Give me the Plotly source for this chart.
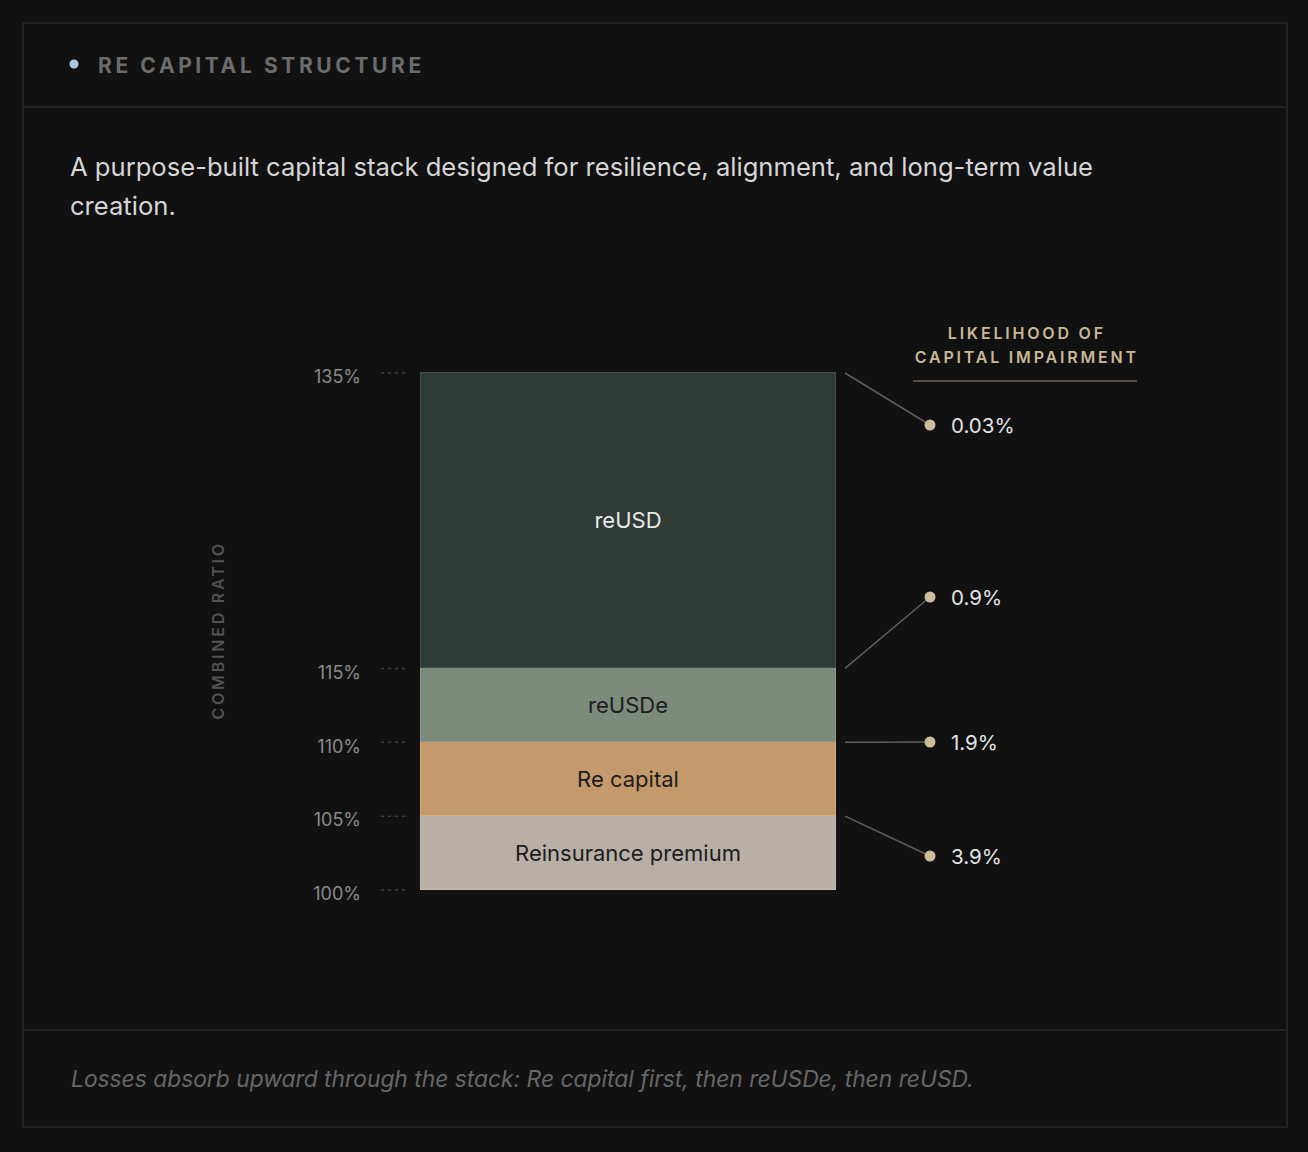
import plotly.graph_objects as go

W, H = 1308, 1152

# --- data ---
segments = ["Reinsurance premium", "Re capital", "reUSDe", "reUSD"]
bounds = [100, 105, 110, 115, 135]
seg_colors = ["#b8afa6", "#c49a6c", "#7d8b7d", "#2e3b36"]
seg_edges = ["#c9c1b9", "#d1aa80", "#8d9a8c", "#3f4f48"]
seg_text_colors = ["#1c1c1c", "#1c1c1c", "#1c1c1c", "#e8e8e8"]
tick_vals = [100, 105, 110, 115, 135]
tick_text = ["100%", "105%", "110%", "115%", "135%"]
impair_at = [135, 115, 110, 105]
impair_text = ["0.03%", "0.9%", "1.9%", "3.9%"]

# --- layout helpers (pixel placement) ---
PX_100, PX_135 = 890, 373
ppu = (PX_100 - PX_135) / (135 - 100)
y_lo = 100 - (H - PX_100) / ppu
y_hi = 135 + PX_135 / ppu


def py2y(py):
    return 135 - (py - PX_135) / ppu


def px(x):
    return x / W


def py(y):
    return 1 - y / H


FONT = "Inter, Roboto, sans-serif"
bar_x, bar_w = 628.5, 415
lead_x0, dot_x, lab_x = 845, 930, 949
dot_py = [425, 597, 742, 856]

fig = go.Figure()


def note(x, y, text, **kw):
    fig.add_annotation(x=px(x), y=py(y), xref="paper", yref="paper", text=text,
                       showarrow=False, **kw)


# stacked capital layers
for i, name in enumerate(segments):
    fig.add_trace(go.Bar(
        x=[bar_x], y=[bounds[i + 1] - bounds[i]], base=[bounds[i]],
        width=[bar_w],
        marker=dict(color=seg_colors[i], line=dict(color=seg_edges[i], width=1)),
        text=[name], textposition="inside", insidetextanchor="middle",
        textangle=0, constraintext="none",
        textfont=dict(family=FONT, size=22, color=seg_text_colors[i]),
        hoverinfo="skip", showlegend=False,
    ))

# leader lines + dots for likelihood of impairment
for lvl, dpy, txt in zip(impair_at, dot_py, impair_text):
    yd = py2y(dpy)
    fig.add_trace(go.Scatter(
        x=[lead_x0, dot_x], y=[lvl, yd], mode="lines",
        line=dict(color="#5e5e5e", width=1.5),
        hoverinfo="skip", showlegend=False,
    ))
    fig.add_trace(go.Scatter(
        x=[dot_x], y=[yd], mode="markers",
        marker=dict(color="#cdbd9b", size=11),
        hoverinfo="skip", showlegend=False,
    ))
    fig.add_annotation(x=lab_x, y=yd, xref="x", yref="y", text=txt,
                       showarrow=False, xanchor="left", yanchor="middle",
                       font=dict(family=FONT, size=20.5, color="#e4e4e4"))

# dotted tick leaders
for v in tick_vals:
    fig.add_shape(type="line", xref="x", yref="y", x0=381, x1=408, y0=v, y1=v,
                  line=dict(color="#3c3c3c", width=1.5, dash="3px,4px"))

# card frame and separators
fig.add_shape(type="rect", xref="paper", yref="paper", x0=px(23), x1=px(1287), y0=py(23), y1=py(1127),
              line=dict(color="#232323", width=2), fillcolor="rgba(0,0,0,0)", layer="below")
for sep in [107, 1030]:
    fig.add_shape(type="line", xref="paper", yref="paper", x0=px(23), x1=px(1287), y0=py(sep), y1=py(sep),
                  line=dict(color="#232323", width=2))
fig.add_shape(type="circle", xref="paper", yref="paper", x0=px(69.5), x1=px(78.5), y0=py(59.5), y1=py(68.5),
              line=dict(width=0), fillcolor="#a9c9dc")
fig.add_shape(type="line", xref="paper", yref="paper", x0=px(913), x1=px(1137), y0=py(381), y1=py(381),
              line=dict(color="#6b6150", width=1.5))

# titles and notes (spaced caps are centre-anchored; letter spacing is set in the page script)
note(261, 66, "RE CAPITAL STRUCTURE", xanchor="center", yanchor="middle",
     font=dict(family=FONT, size=21, weight=700, color="#6c6c6c"))
note(68, 166, "A purpose-built capital stack designed for resilience, alignment, and long-term value",
     xanchor="left", yanchor="middle", font=dict(family=FONT, size=25.6, color="#d6d6d6"))
note(68, 206, "creation.", xanchor="left", yanchor="middle",
     font=dict(family=FONT, size=25.6, color="#d6d6d6"))
note(1026.5, 333, "LIKELIHOOD OF", xanchor="center", yanchor="middle",
     font=dict(family=FONT, size=16, weight=600, color="#c9b996"))
note(1026.5, 357, "CAPITAL IMPAIRMENT", xanchor="center", yanchor="middle",
     font=dict(family=FONT, size=16, weight=600, color="#c9b996"))
note(218, 631, "COMBINED RATIO", textangle=-90, xanchor="center", yanchor="middle",
     font=dict(family=FONT, size=16, weight=600, color="#535353"))
note(69, 1078, "<i>Losses absorb upward through the stack: Re capital first, then reUSDe, then reUSD.</i>",
     xanchor="left", yanchor="middle", font=dict(family=FONT, size=22.8, color="#676767"))

fig.update_layout(
    width=W, height=H,
    margin=dict(l=0, r=0, t=0, b=0, autoexpand=False),
    paper_bgcolor="#111111", plot_bgcolor="#111111",
    barmode="overlay", bargap=0,
    xaxis=dict(range=[0, W], visible=False, fixedrange=True),
    yaxis=dict(range=[y_lo, y_hi], anchor="free", position=px(361),
               tickvals=tick_vals, ticktext=tick_text, ticks="",
               ticklabelshift=4,
               showgrid=False, zeroline=False, showline=False,
               tickfont=dict(family=FONT, size=18, color="#8a8a8a"),
               fixedrange=True),
    showlegend=False,
)

page_js = """
document.body.style.margin = '0';
document.body.style.background = '#111111';
var sp = {"RE CAPITAL STRUCTURE": "3.6px", "LIKELIHOOD OF": "2.8px",
          "CAPITAL IMPAIRMENT": "2.8px", "COMBINED RATIO": "2.8px"};
document.querySelectorAll('.annotation-text').forEach(function(t){
  var k = t.textContent; if (sp[k]) { t.style.letterSpacing = sp[k]; }
});
"""

fig.write_html("out.html", post_script=page_js, config={"displayModeBar": False})
